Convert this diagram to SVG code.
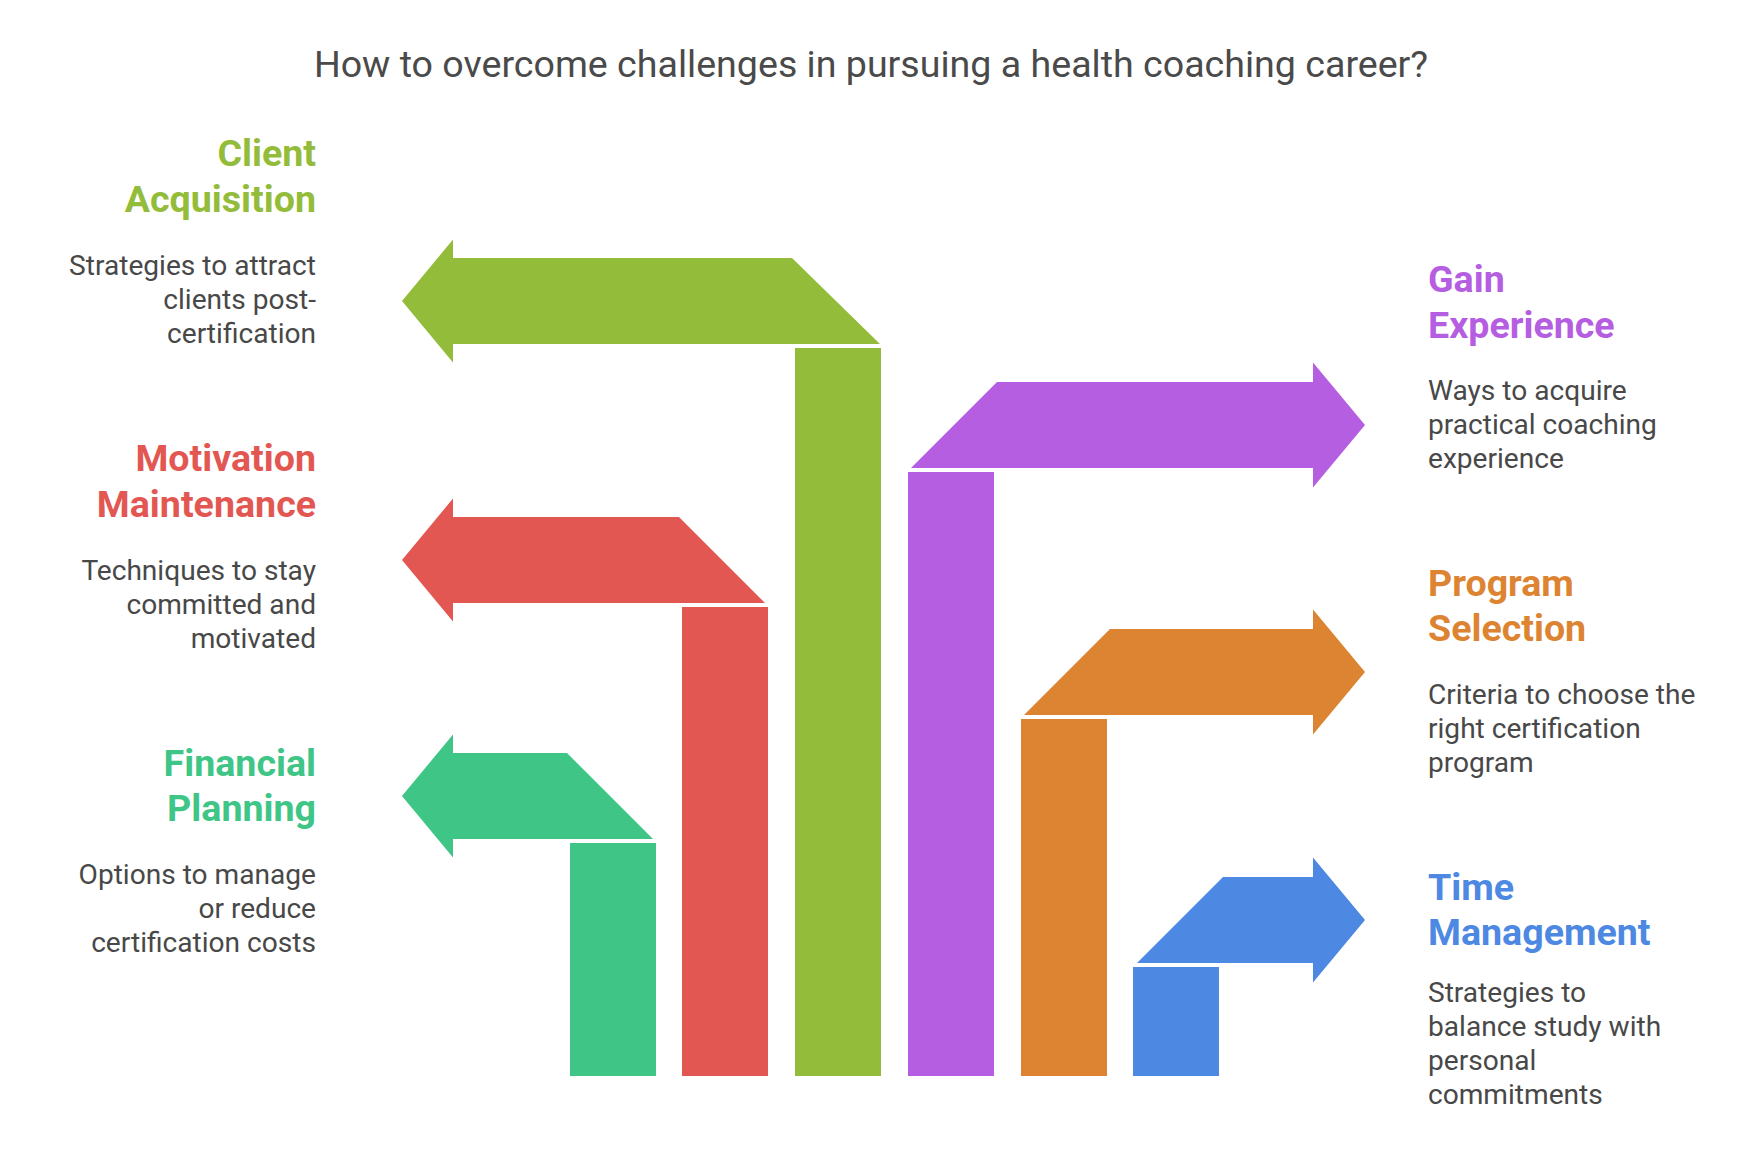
<svg xmlns="http://www.w3.org/2000/svg" width="1745" height="1156" viewBox="0 0 1745 1156">
<style>
.title{font-family:Roboto,"Liberation Sans",sans-serif;font-size:37.6px;fill:#4a4a4a;text-anchor:middle}
.lbl{font-family:Roboto,"Liberation Sans",sans-serif;font-size:37.6px;font-weight:700}
.desc{font-family:Roboto,"Liberation Sans",sans-serif;font-size:28.1px;fill:#484848}
.l{text-anchor:end}
.r{text-anchor:start}
.green{fill:#93BC3B}
.red{fill:#E35753}
.teal{fill:#3FC586}
.purple{fill:#B65EE1}
.orange{fill:#DD8432}
.blue{fill:#4D88E2}
</style>
<rect width="1745" height="1156" fill="#ffffff"/>
<text class="title" x="871" y="77">How to overcome challenges in pursuing a health coaching career?</text>

<g id="client-acquisition">
<polygon class="green" points="402,301 453,239.5 453,258 792,258 880,344 453,344 453,362.5"/>
<rect class="green" x="795" y="348" width="86" height="728"/>
<text class="lbl l green" x="316" y="166">Client</text>
<text class="lbl l green" x="316" y="212">Acquisition</text>
<text class="desc l" x="316" y="275">Strategies to attract</text>
<text class="desc l" x="316" y="309">clients post-</text>
<text class="desc l" x="316" y="343">certification</text>
</g>

<g id="motivation-maintenance">
<polygon class="red" points="402,560 453,498.5 453,517 679,517 765,603 453,603 453,621.5"/>
<rect class="red" x="682" y="607" width="86" height="469"/>
<text class="lbl l red" x="316" y="471">Motivation</text>
<text class="lbl l red" x="316" y="517">Maintenance</text>
<text class="desc l" x="316" y="580">Techniques to stay</text>
<text class="desc l" x="316" y="614">committed and</text>
<text class="desc l" x="316" y="648">motivated</text>
</g>

<g id="financial-planning">
<polygon class="teal" points="402,796 453,734.5 453,753 567,753 653,839 453,839 453,857.5"/>
<rect class="teal" x="570" y="843" width="86" height="233"/>
<text class="lbl l teal" x="316" y="776">Financial</text>
<text class="lbl l teal" x="316" y="821">Planning</text>
<text class="desc l" x="316" y="884">Options to manage</text>
<text class="desc l" x="316" y="918">or reduce</text>
<text class="desc l" x="316" y="952">certification costs</text>
</g>

<g id="gain-experience">
<polygon class="purple" points="911,468 997,382 1313,382 1313,362.5 1365,425 1313,487.5 1313,468"/>
<rect class="purple" x="908" y="472" width="86" height="604"/>
<text class="lbl r purple" x="1428" y="292">Gain</text>
<text class="lbl r purple" x="1428" y="338">Experience</text>
<text class="desc r" x="1428" y="400">Ways to acquire</text>
<text class="desc r" x="1428" y="434">practical coaching</text>
<text class="desc r" x="1428" y="468">experience</text>
</g>

<g id="program-selection">
<polygon class="orange" points="1024,715 1110,629 1313,629 1313,609.5 1365,672 1313,734.5 1313,715"/>
<rect class="orange" x="1021" y="719" width="86" height="357"/>
<text class="lbl r orange" x="1428" y="596">Program</text>
<text class="lbl r orange" x="1428" y="641">Selection</text>
<text class="desc r" x="1428" y="704">Criteria to choose the</text>
<text class="desc r" x="1428" y="738">right certification</text>
<text class="desc r" x="1428" y="772">program</text>
</g>

<g id="time-management">
<polygon class="blue" points="1137,963 1223,877 1313,877 1313,857.5 1365,920 1313,982.5 1313,963"/>
<rect class="blue" x="1133" y="967" width="86" height="109"/>
<text class="lbl r blue" x="1428" y="900">Time</text>
<text class="lbl r blue" x="1428" y="945">Management</text>
<text class="desc r" x="1428" y="1002">Strategies to</text>
<text class="desc r" x="1428" y="1036">balance study with</text>
<text class="desc r" x="1428" y="1070">personal</text>
<text class="desc r" x="1428" y="1104">commitments</text>
</g>

<g id="connectors"></g>
</svg>
